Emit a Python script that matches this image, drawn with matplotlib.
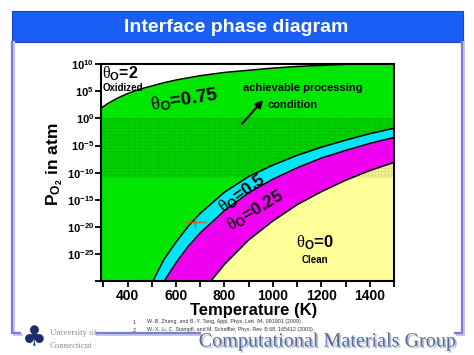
import matplotlib
matplotlib.use('Agg')
import matplotlib.pyplot as plt
import numpy as np
from matplotlib.lines import Line2D
from matplotlib.patches import Rectangle, FancyArrowPatch
from matplotlib.ticker import FixedLocator
import matplotlib.patheffects as pe

plt.rcParams['font.family'] = ['Liberation Sans', 'DejaVu Sans']
plt.rcParams['mathtext.fontset'] = 'custom'
plt.rcParams['mathtext.rm'] = 'Liberation Serif'
plt.rcParams['mathtext.it'] = 'Liberation Serif:italic'
plt.rcParams['mathtext.bf'] = 'Liberation Sans:bold'
plt.rcParams['mathtext.sf'] = 'Liberation Sans'
plt.rcParams['hatch.linewidth'] = 0.3

# ---------------- data (temperature K, log10 P_O2 in atm) ----------------
T_top = [290, 320, 360, 400, 450, 500, 550, 600, 700, 800, 900, 1000, 1100, 1200, 1300, 1400, 1500]
logP_top = [1.9, 2.8, 3.8, 4.6, 5.4, 6.0, 6.6, 7.1, 7.9, 8.5, 8.9, 9.3, 9.6, 9.8, 10.0, 10.15, 10.3]

T_outer = [500, 550, 600, 650, 700, 800, 900, 1000, 1100, 1200, 1300, 1400, 1500]
logP_outer = [-30.4, -26.0, -22.8, -19.9, -17.5, -13.6, -10.7, -8.6, -6.8, -5.3, -4.0, -2.8, -1.8]

T_inner = [550, 600, 650, 700, 800, 900, 1000, 1100, 1200, 1300, 1400, 1500]
logP_inner = [-30.1, -26.6, -23.6, -21.1, -17.0, -13.7, -11.2, -9.1, -7.3, -5.9, -4.6, -3.5]

T_clean = [740, 800, 900, 1000, 1100, 1200, 1300, 1400, 1500]
logP_clean = [-30.2, -26.9, -22.4, -18.9, -15.9, -13.5, -11.4, -9.6, -8.1]

band_logP = [-11, 0]          # achievable processing window
marker_T = [680]
marker_logP = [-19.1]

x_ticks = [400, 600, 800, 1000, 1200, 1400]
x_minor = [300, 500, 700, 900, 1100, 1300, 1500]
y_exps = [-30, -25, -20, -15, -10, -5, 0, 5, 10]

green = '#00e600'
cyan = '#00e5f8'
magenta = '#f000f0'
yellow = '#ffff99'

W, H = 474, 355
fig = plt.figure(figsize=(4.74, 3.55), dpi=100)
fig.patch.set_facecolor('white')


def fx(x):
    return x / W


def fy(y):
    return 1 - y / H


ax = fig.add_axes([fx(101), fy(281), fx(394) - fx(101), fy(64.3) - fy(281)])
ax.set_yscale('log')
ax.set_xlim(290, 1500)
ax.set_ylim(1e-30, 1e10)
ax.set_facecolor('white')

P = lambda a: 10.0 ** np.array(a, dtype=float)

ax.fill_between(T_top, 1e-30, P(logP_top), color=green, lw=0, zorder=1)
ax.axhspan(10.0 ** band_logP[0], 10.0 ** band_logP[1], facecolor=(0, 0, 0, 0.08),
           hatch='+++++', edgecolor=(0, 0, 0, 0.14), lw=0, zorder=1.5)
ax.fill_between(T_outer, 1e-30, P(logP_outer), color=cyan, lw=0, zorder=2)
ax.fill_between(T_inner, 1e-30, P(logP_inner), color=magenta, lw=0, zorder=2.1)
ypoly = ax.fill_between(T_clean, 1e-30, P(logP_clean), color=yellow, lw=0, zorder=2.2)
b2 = ax.axhspan(10.0 ** band_logP[0], 10.0 ** band_logP[1], facecolor=(0, 0, 0, 0.05),
                hatch='+++++', edgecolor=(0, 0, 0, 0.14), lw=0, zorder=2.3)
b2.set_clip_path(ypoly.get_paths()[0], ypoly.get_transform())

for Tc, Lc in [(T_top, logP_top), (T_outer, logP_outer), (T_inner, logP_inner), (T_clean, logP_clean)]:
    ax.plot(Tc, P(Lc), color='black', lw=1.1, zorder=4)

ax.errorbar(marker_T, P(marker_logP), xerr=45, fmt='+', color='#c0602a', ms=9, mew=1.0,
            elinewidth=0.9, capsize=0, alpha=0.85, zorder=5)

for s in ax.spines.values():
    s.set_linewidth(1.5)
    s.set_zorder(6)

ax.yaxis.set_major_locator(FixedLocator([10.0 ** k for k in y_exps]))
ax.yaxis.set_minor_locator(FixedLocator([]))
ax.set_yticklabels(['' if k == -30 else r'$\mathbf{10^{%d}}$' % k for k in y_exps])
ax.set_xticks(x_ticks)
ax.set_xticks(x_minor, minor=True)
ax.set_xticklabels([str(v) for v in x_ticks])
ax.tick_params(axis='both', which='both', direction='out', width=1.3, length=4)
ax.tick_params(axis='y', labelsize=8, pad=1)
ax.tick_params(axis='x', labelsize=10, pad=1.5)
for lbl in ax.get_xticklabels():
    lbl.set_fontweight('bold')

# axis labels
fig.text(fx(254), fy(311), 'Temperature (K)', ha='center', va='center', fontsize=12, fontweight='bold')
fig.text(fx(55), fy(164), r'$\mathbf{P_{O_2}}$ in atm', ha='center', va='center', rotation=90,
         fontsize=12.5, fontweight='bold')

TH = r'$\mathrm{\theta}_\mathbf{O}$'

# in-plot labels
fig.text(fx(102), fy(74), TH + '=2', ha='left', va='center', fontsize=11.5, fontweight='bold')
fig.text(fx(103), fy(88), 'Oxidized', ha='left', va='center', fontsize=7, fontweight='bold')
fig.text(fx(184), fy(100), TH + '=0.75', ha='center', va='center',
         fontsize=13.5, rotation=9, fontweight='bold')
fig.text(fx(303), fy(88), 'achievable processing', ha='center', va='center', fontsize=8, fontweight='bold')
fig.text(fx(293), fy(105), 'condition', ha='center', va='center', fontsize=8, fontweight='bold')
fig.add_artist(FancyArrowPatch((fx(240), fy(126)), (fx(265), fy(98)), transform=fig.transFigure,
                               arrowstyle='-|>', mutation_scale=11, lw=1.5, color='black'))
fig.text(fx(243), fy(194), TH + '=0.5', ha='center', va='center',
         fontsize=12.5, rotation=36, fontweight='bold')
fig.text(fx(256), fy(211), TH + '=0.25', ha='center', va='center',
         fontsize=12.5, rotation=31, fontweight='bold')
fig.text(fx(315), fy(243), TH + '=0', ha='center', va='center', fontsize=12, fontweight='bold')
fig.text(fx(315), fy(260), 'Clean', ha='center', va='center', fontsize=7, fontweight='bold')

# ---------------- slide decoration ----------------
frame_c = '#7c7cd6'
shadow_c = '#c4c4ec'
for (xs, ys, c, w) in [
    ([13.5, 13.5, 21.5], [42, 334.5, 334.5], shadow_c, 1.5),
    ([463.5, 463.5, 457], [42, 334.5, 334.5], shadow_c, 1.5),
    ([97, 200], [334.5, 334.5], shadow_c, 1.5),
    ([12, 12, 20], [42, 333, 333], frame_c, 1.6),
    ([462, 462, 455], [42, 333, 333], frame_c, 1.6),
    ([97, 200], [333, 333], frame_c, 1.6),
]:
    fig.add_artist(Line2D([fx(v) for v in xs], [fy(v) for v in ys], color=c, lw=w,
                          transform=fig.transFigure))

fig.add_artist(Rectangle((fx(12), fy(42)), fx(463) - fx(12), fy(11) - fy(42), transform=fig.transFigure,
                         facecolor='#1a5ef4', edgecolor='#1648c8', lw=0.8))
fig.text(fx(236), fy(27), 'Interface phase diagram', ha='center', va='center', color='white',
         fontsize=14, fontweight='bold')

fig.text(fx(133), fy(322), '1.', fontsize=3.8, color='#333333', ha='left', va='center')
fig.text(fx(147), fy(322), 'W.-B. Zhang, and B.-Y. Tang, Appl. Phys. Lett. 94, 091901 (2009).',
         fontsize=3.8, color='#333333', ha='left', va='center')
fig.text(fx(133), fy(330), '2.', fontsize=3.8, color='#333333', ha='left', va='center')
fig.text(fx(147), fy(330), 'W.-X. Li, C. Stampfl, and M. Scheffler, Phys. Rev. B 68, 165412 (2003).',
         fontsize=3.8, color='#333333', ha='left', va='center')

fig.text(fx(34), fy(338), '\u2663', fontsize=20, color='#1c2c6c', ha='center', va='center',
         family='DejaVu Sans')
fig.text(fx(50), fy(333), 'University of', fontsize=6.3, color='#8a8a8a', ha='left', va='center',
         family='Liberation Serif')
fig.text(fx(50), fy(346), 'Connecticut', fontsize=6.3, color='#8a8a8a', ha='left', va='center',
         family='Liberation Serif')
fig.text(fx(327), fy(342), 'Computational Materials Group', fontsize=14.5, color='#56699a',
         ha='center', va='center', family='Liberation Serif',
         path_effects=[pe.withSimplePatchShadow(offset=(1.2, -1.2), shadow_rgbFace='#b8c0d8', alpha=1)])

fig.savefig('out.png', dpi=100)
